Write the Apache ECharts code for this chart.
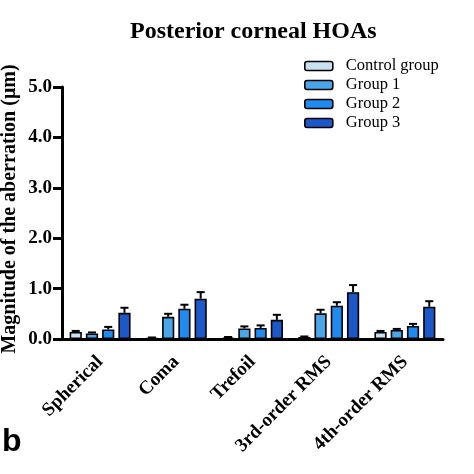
<!DOCTYPE html>
<html><head><meta charset="utf-8">
<script src="https://cdn.jsdelivr.net/npm/echarts@6/dist/echarts.min.js"></script>
<style>html,body{margin:0;padding:0;background:#fff}#c{width:474px;height:474px}</style>
</head><body><div id="c"></div>
<script>
var categories = ['Spherical','Coma','Trefoil','3rd-order RMS','4th-order RMS'];
var seriesNames = ['Control group','Group 1','Group 2','Group 3'];
var controlVals = [0.14,0.02,0.03,0.04,0.14];
var group1Vals  = [0.11,0.44,0.21,0.51,0.18];
var group2Vals  = [0.19,0.60,0.22,0.66,0.26];
var group3Vals  = [0.52,0.80,0.38,0.93,0.64];
var controlErr = [0.02,0.01,0.01,0.01,0.02];
var group1Err  = [0.02,0.06,0.04,0.07,0.02];
var group2Err  = [0.05,0.08,0.05,0.07,0.04];
var group3Err  = [0.10,0.13,0.10,0.14,0.11];
var yTicks = ['0.0','1.0','2.0','3.0','4.0','5.0'];

var colors = ['#c8e1f2','#4aa6e8','#1f8af0','#1d58c8'];
var values = [controlVals,group1Vals,group2Vals,group3Vals];
var errs = [controlErr,group1Err,group2Err,group3Err];
var CAT_GAP = 0.2, BAR_GAP = 0.33, N = 4;
var font = '"Liberation Serif","Times New Roman",serif';

var series = [];
values.forEach(function(v,i){
  series.push({
    name: seriesNames[i], type:'bar', data:v,
    barCategoryGap: (CAT_GAP*100)+'%', barGap:(BAR_GAP*100)+'%',
    itemStyle:{color:colors[i], borderColor:'#000', borderWidth:1.6},
    z:3
  });
});
values.forEach(function(v,i){
  series.push({
    type:'custom', name:'err'+i, z:2,
    data: v.map(function(val,k){return [k,val,val+errs[i][k]];}),
    renderItem:function(params,api){
      var k = api.value(0);
      var band = api.size([1,0])[0];
      var w = band*(1-CAT_GAP)/(N+(N-1)*BAR_GAP);
      var center = api.coord([k,0])[0];
      var x = center - band*(1-CAT_GAP)/2 + i*w*(1+BAR_GAP) + w/2;
      var yb = api.coord([k,api.value(1)])[1];
      var yt = api.coord([k,api.value(2)])[1];
      var cap = w*0.33;
      var st = {stroke:'#000', lineWidth:2};
      return {type:'group', children:[
        {type:'line', shape:{x1:x,y1:yb,x2:x,y2:yt}, style:st},
        {type:'line', shape:{x1:x-cap,y1:yt,x2:x+cap,y2:yt}, style:st}
      ]};
    }
  });
});

var chart = echarts.init(document.getElementById('c'));
chart.setOption({
  animation:false,
  title:{text:'Posterior corneal HOAs', left:125, top:15,
    textStyle:{fontFamily:font, fontWeight:'bold', fontSize:24, color:'#000'}},
  legend:{data:seriesNames, orient:'vertical', left:299, top:52, itemWidth:28, itemHeight:9, itemGap:1,
    textStyle:{fontFamily:font, fontSize:16.5, lineHeight:18, color:'#000', padding:[0,0,0,8]},
    itemStyle:{borderColor:'#000', borderWidth:1.6}},
  grid:{left:62, right:31, top:87, bottom:135, outerBoundsMode:'none', containLabel:false},
  xAxis:{type:'category', data:categories,
    axisLine:{lineStyle:{color:'#000', width:3}},
    axisTick:{alignWithLabel:true, length:8, lineStyle:{color:'#000', width:3}},
    axisLabel:{rotate:45, margin:20, fontFamily:font, fontWeight:'bold', fontSize:19, color:'#000'}},
  yAxis:{type:'value', min:0, max:5, interval:1,
    name:'Magnitude of the aberration (μm)', nameLocation:'middle', nameGap:42, nameMoveOverlap:false,
    nameTextStyle:{fontFamily:font, fontWeight:'bold', fontSize:20, color:'#000', padding:[0,0,0,8]},
    axisLine:{show:true, lineStyle:{color:'#000', width:3}},
    axisTick:{show:true, length:9, lineStyle:{color:'#000', width:3}},
    splitLine:{show:false},
    axisLabel:{margin:10, fontFamily:font, fontWeight:'bold', fontSize:19, color:'#000',
      formatter:function(v){return yTicks[Math.round(v)];}}},
  graphic:[{type:'text', left:2, top:426, style:{text:'b', font:'bold 32px "Liberation Sans",Arial,sans-serif', fill:'#000'}}],
  series:series
});
</script></body></html>
